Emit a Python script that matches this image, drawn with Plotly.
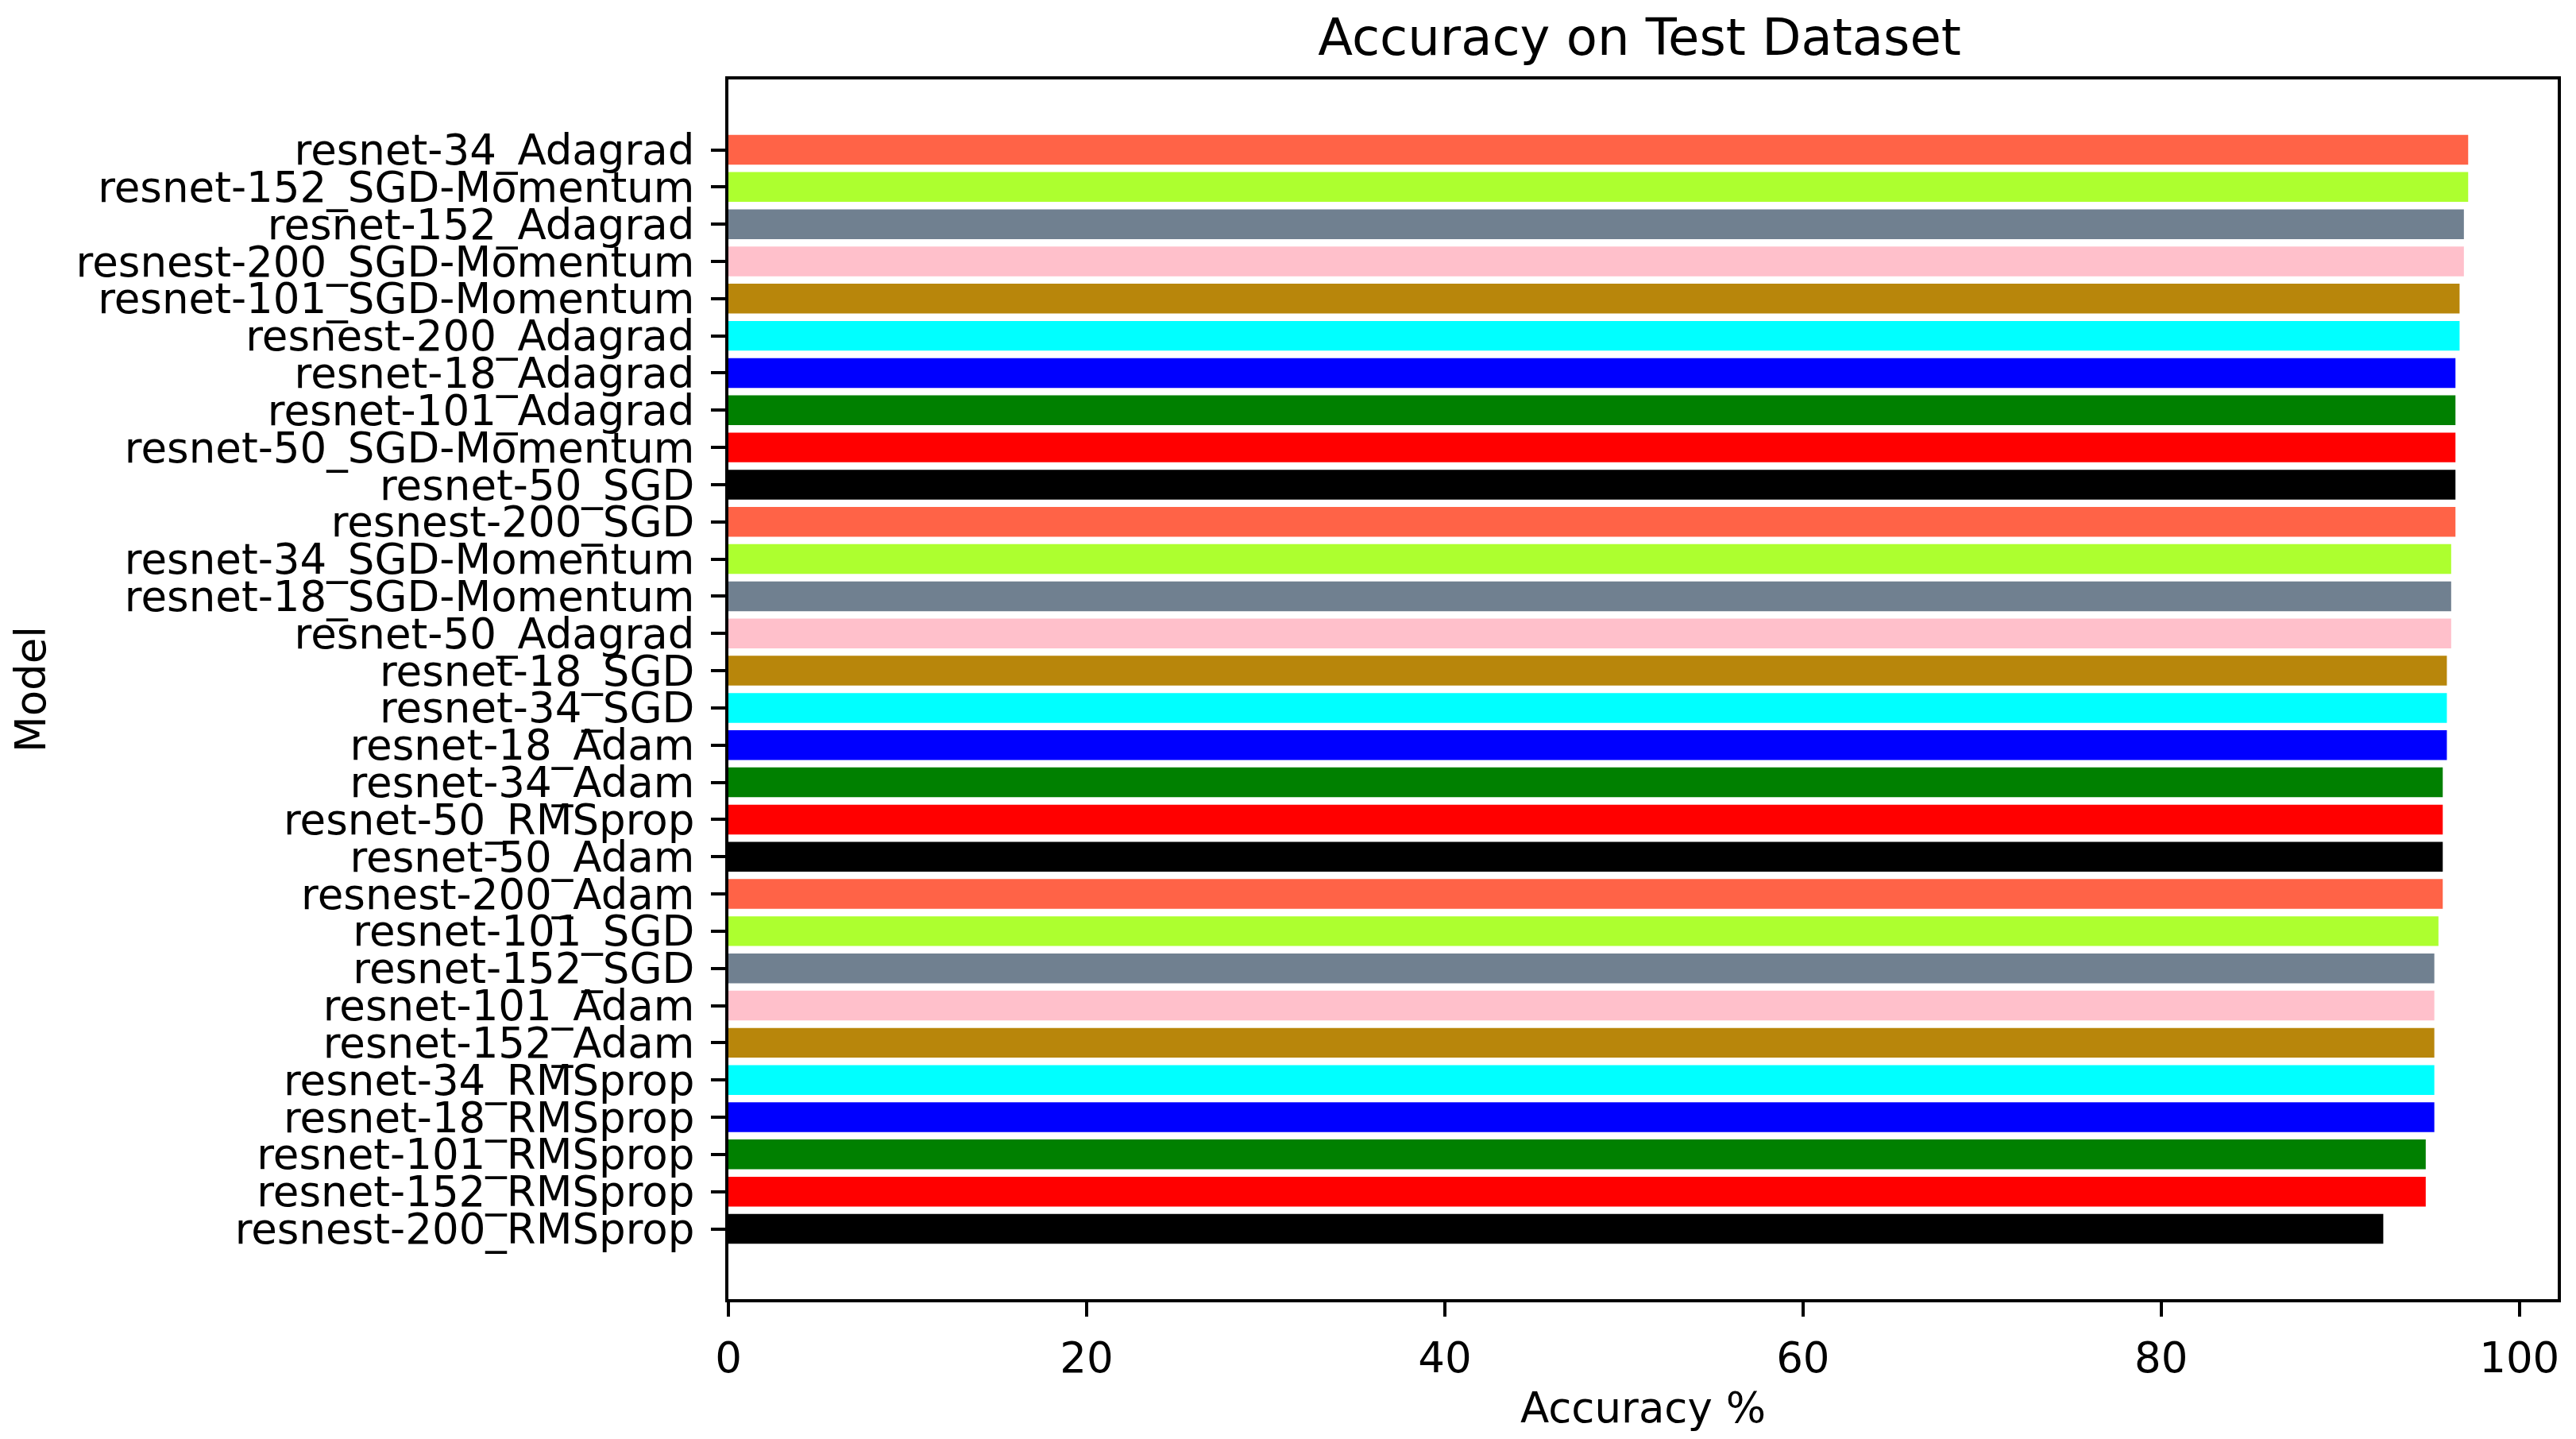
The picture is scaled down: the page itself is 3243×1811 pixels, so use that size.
import plotly.graph_objects as go

# models, listed bottom to top as drawn
models = [
    'resnest-200_RMSprop', 'resnet-152_RMSprop', 'resnet-101_RMSprop',
    'resnet-18_RMSprop', 'resnet-34_RMSprop', 'resnet-152_Adam',
    'resnet-101_Adam', 'resnet-152_SGD', 'resnet-101_SGD',
    'resnest-200_Adam', 'resnet-50_Adam', 'resnet-50_RMSprop',
    'resnet-34_Adam', 'resnet-18_Adam', 'resnet-34_SGD',
    'resnet-18_SGD', 'resnet-50_Adagrad', 'resnet-18_SGD-Momentum',
    'resnet-34_SGD-Momentum', 'resnest-200_SGD', 'resnet-50_SGD',
    'resnet-50_SGD-Momentum', 'resnet-101_Adagrad', 'resnet-18_Adagrad',
    'resnest-200_Adagrad', 'resnet-101_SGD-Momentum', 'resnest-200_SGD-Momentum',
    'resnet-152_Adagrad', 'resnet-152_SGD-Momentum', 'resnet-34_Adagrad',
]
accuracy = [
    92.40, 94.77, 94.77,
    95.25, 95.25, 95.25,
    95.25, 95.25, 95.48,
    95.72, 95.72, 95.72,
    95.72, 95.95, 95.95,
    95.95, 96.19, 96.19,
    96.19, 96.43, 96.43,
    96.43, 96.43, 96.43,
    96.66, 96.66, 96.90,
    96.90, 97.14, 97.14,
]
x_ticks = [0, 20, 40, 60, 80, 100]

palette = ['black', 'red', 'green', 'blue', 'cyan',
           'darkgoldenrod', 'pink', 'slategray', 'greenyellow', 'tomato']
bar_colors = [palette[i % len(palette)] for i in range(len(models))]

fig = go.Figure()
fig.add_trace(go.Bar(
    x=accuracy,
    y=models,
    orientation='h',
    width=0.8,
    marker=dict(color=bar_colors, line=dict(width=0)),
))

# the page body has an 8px margin, so the plot box is nudged up/left to match
axis_font = dict(family='DejaVu Sans', size=53, color='black')
fig.update_xaxes(
    range=[0, 102.14],
    tickmode='array', tickvals=x_ticks,
    ticks='outside', ticklen=18, tickwidth=4, tickcolor='black',
    showline=True, linewidth=4, linecolor='black', mirror=True,
    showgrid=False, zeroline=False,
    tickfont=axis_font, ticklabelstandoff=6,
    title=dict(text='Accuracy %', font=axis_font, standoff=16),
)
fig.update_yaxes(
    type='category',
    tickmode='array', tickvals=models, ticktext=models,
    range=[-1.89, len(models) - 1 + 1.89],
    ticks='outside', ticklen=18, tickwidth=4, tickcolor='black',
    showline=True, linewidth=4, linecolor='black', mirror=True,
    showgrid=False, zeroline=False,
    tickfont=axis_font, ticklabelstandoff=10,
    title=dict(text='Model', font=axis_font, standoff=34),
)
fig.update_layout(
    width=3243, height=1811,
    template='simple_white',
    plot_bgcolor='white', paper_bgcolor='white',
    margin=dict(l=909, r=31, t=92, b=184, autoexpand=False),
    title=dict(text='Accuracy on Test Dataset', x=0.634, xanchor='center',
               y=0.9785, yanchor='middle',
               font=dict(family='DejaVu Sans', size=64, color='black')),
    showlegend=False,
    bargap=0.2,
)
fig.write_html('out.html')
